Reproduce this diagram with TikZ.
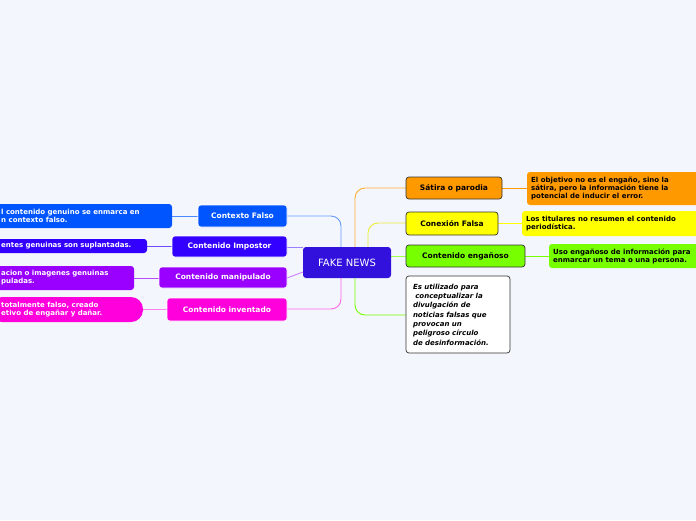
\documentclass[tikz,border=0pt]{standalone}
\usepackage{fontspec}
\setmainfont{DejaVu Sans}
\begin{document}
\begin{tikzpicture}[x=1pt,y=-1pt,
 box/.style={rounded corners=3pt,inner sep=0pt,font=\fontsize{7.5}{8.5}\selectfont\bfseries},
 topic/.style={box,draw=white,line width=0.6pt,text=white},
 rtopic/.style={box,draw=black!80,line width=0.7pt,text=black},
 ltxt/.style={box,text=white,align=left,anchor=west,inner xsep=0pt,font=\fontsize{7}{8}\selectfont\bfseries},
 rtxt/.style={box,text=black,align=left,anchor=west,font=\fontsize{7}{8}\selectfont\bfseries},
 con/.style={line width=0.9pt,rounded corners=10pt}]
\useasboundingbox (0,0) rectangle (696,520);
\clip (0,0) rectangle (696,520);
\fill[fill={rgb,255:red,244;green,246;blue,253}] (0,0) rectangle (696,520);
\definecolor{cblue}{RGB}{0,85,255}
\definecolor{cimp}{RGB}{51,0,255}
\definecolor{cman}{RGB}{153,0,255}
\definecolor{cinv}{RGB}{255,0,221}
\definecolor{corange}{RGB}{255,153,0}
\definecolor{cyel}{RGB}{255,255,0}
\definecolor{cgreen}{RGB}{119,255,0}
\definecolor{cfake}{RGB}{51,17,221}
% connectors
\coordinate (lt) at (341,247);
\coordinate (lb) at (341,278);
\coordinate (rt) at (355,247);
\coordinate (ry) at (368,247);
\coordinate (rb) at (355,278);
\draw[con,draw=cblue!60] (lt) |- (287,216);
\draw[con,draw=cinv!60] (lb) |- (287,309);
\draw[con,draw=cimp!50] (303,247) -- (287,247);
\draw[con,draw=cman!50] (303,272) -- (287,278);
\draw[con,draw=corange!80] (rt) |- (406,188);
\draw[con,draw=cyel!90!black!80] (ry) |- (406,223);
\draw[con,draw=cgreen!70] (391,256) -- (406,256);
\draw[con,draw=cgreen] (rb) |- (406,315);
\draw[con,draw=cblue!70] (172,216) -- (198,216);
\draw[con,draw=cimp!70] (147,246) -- (172,246);
\draw[con,draw=cman!70] (134,278) -- (159,278);
\draw[con,draw=cinv!50] (143,309) -- (167,309);
\draw[con,draw=corange] (502,188) -- (527,188);
\draw[con,draw=cyel] (498,223) -- (522,223);
\draw[con,draw=cgreen] (525,256) -- (549,256);
% center
\node[box,fill=cfake,text=white,font=\fontsize{10}{12}\selectfont,minimum width=88pt,minimum height=31pt] (fn) at (347,262.5) {FAKE NEWS};
% left topics
\node[topic,fill=cblue,minimum width=89pt,minimum height=22pt] (cf) at (242.5,216) {Contexto Falso};
\node[topic,fill=cimp,minimum width=115pt,minimum height=21pt] (ci) at (229.5,246.5) {Contenido Impostor};
\node[topic,fill=cman,minimum width=128pt,minimum height=21pt] (cm) at (223,277.5) {Contenido manipulado};
\node[topic,fill=cinv,minimum width=120pt,minimum height=23pt] (cv) at (227,309.5) {Contenido inventado};
% left texts
\fill[cblue,rounded corners=3pt] (-10,204) rectangle (172,228);
\node[ltxt] (t1) at (1,216) {l contenido genuino se enmarca en\\n contexto falso.};
\fill[cimp,rounded corners=3pt] (-10,239) rectangle (147,253);
\node[ltxt] (t2) at (1,246) {entes genuinas son suplantadas.};
\fill[cman,rounded corners=3pt] (-10,266) rectangle (134,290);
\node[ltxt] (t3) at (1,278) {acion o imagenes genuinas\\puladas.};
\fill[cinv,rounded corners=12pt] (-10,297) rectangle (143,322);
\node[ltxt] (t4) at (1,309.5) {totalmente falso, creado\\etivo de engañar y dañar.};
% right topics
\node[rtopic,fill=corange,minimum width=96pt,minimum height=22pt] (sp) at (454,188) {Sátira o parodia};
\node[rtopic,fill=cyel,minimum width=92pt,minimum height=23pt] (cx) at (452,223.5) {Conexión Falsa};
\node[rtopic,fill=cgreen,minimum width=119pt,minimum height=22pt] (ce) at (465.5,256) {Contenido engañoso};
\node[rtopic,fill=white,minimum width=104pt,minimum height=77pt,text width=90pt,align=left,font=\fontsize{7}{9.3}\selectfont\bfseries\itshape] (nt) at (458,314.5) {Es utilizado para\\\ conceptualizar la\\divulgación de\\noticias falsas que\\provocan un\\peligroso círculo\\de desinformación.};
% right texts
\fill[corange,rounded corners=3pt] (527,172) rectangle (710,205);
\node[rtxt] (r1) at (531,188.5) {El objetivo no es el engaño, sino la\\sátira, pero la información tiene la\\potencial de inducir el error.};
\fill[cyel,rounded corners=3pt] (522,211) rectangle (710,236);
\node[rtxt] (r2) at (526,223.5) {Los titulares no resumen el contenido\\periodística.};
\fill[cgreen,rounded corners=3pt] (549,244) rectangle (710,268);
\node[rtxt] (r3) at (553,256) {Uso engañoso de información para\\enmarcar un tema o una persona.};
\end{tikzpicture}
\end{document}
